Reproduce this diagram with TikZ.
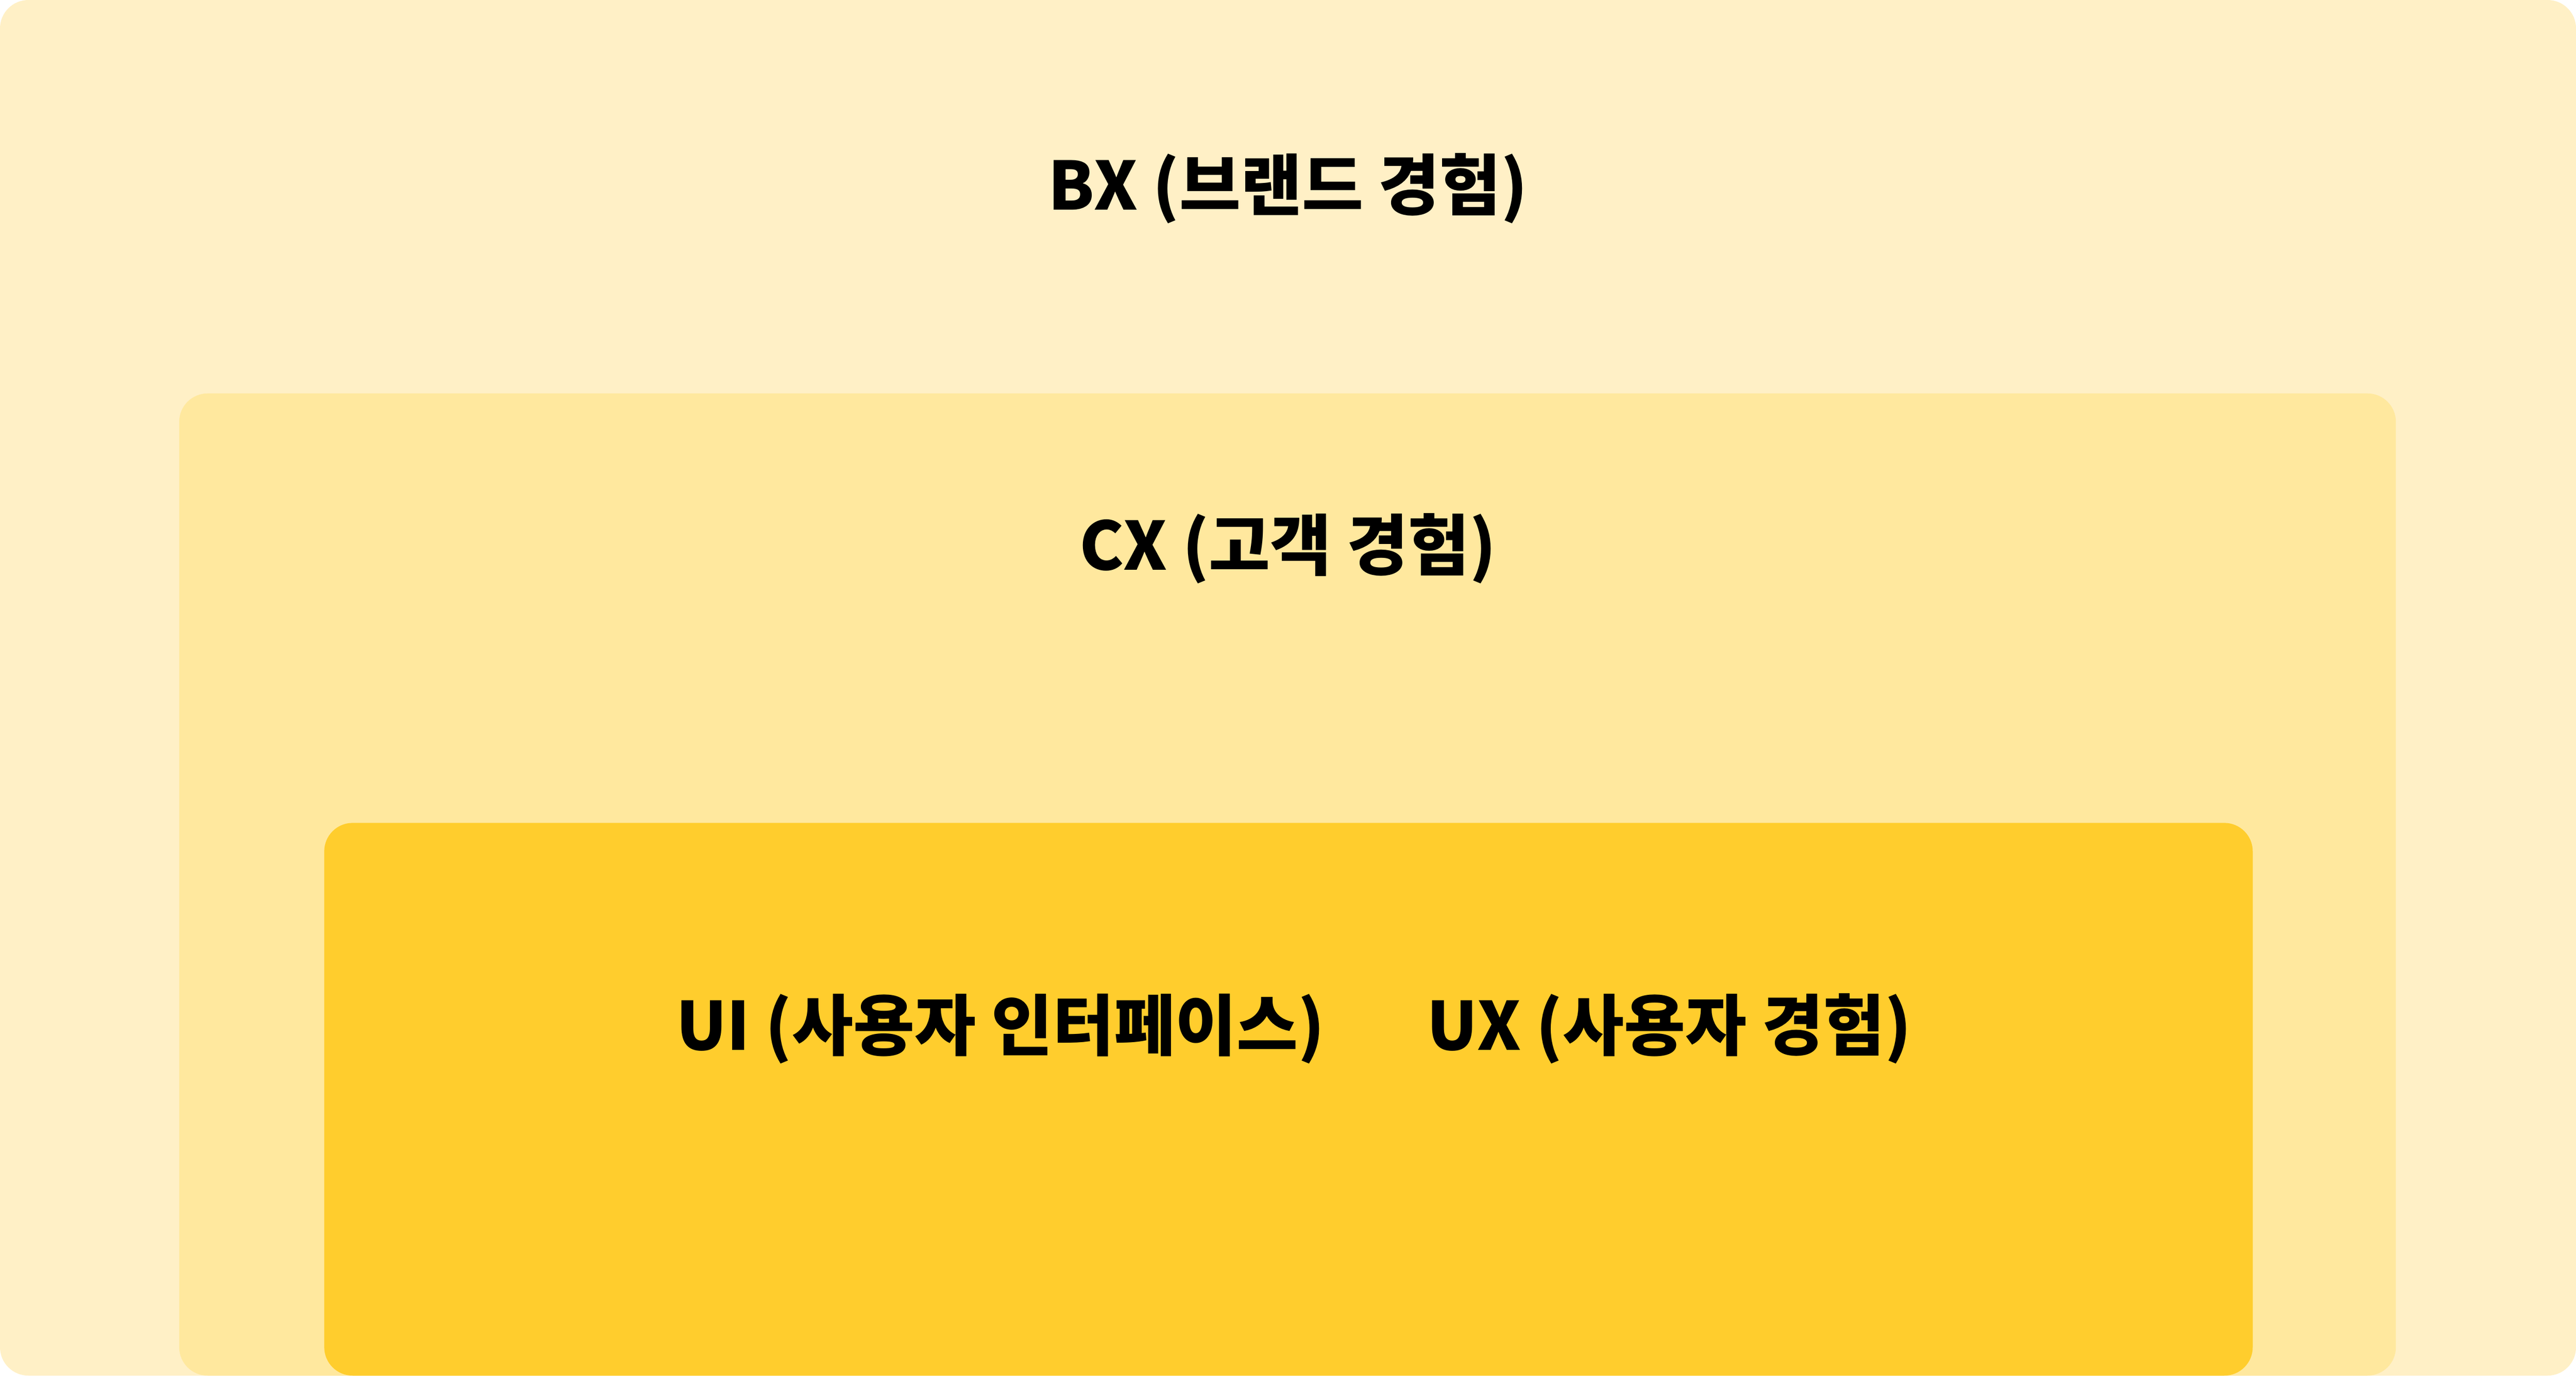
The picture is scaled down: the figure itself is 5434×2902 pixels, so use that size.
\documentclass[tikz,border=0pt]{standalone}
\usepackage{fontspec}
\setmainfont{Noto Sans CJK KR}[BoldFont=* Black]
\usepackage{tikz}
\usetikzlibrary{positioning}
\definecolor{bxcolor}{RGB}{255,240,198}
\definecolor{cxcolor}{RGB}{255,232,158}
\definecolor{uicolor}{RGB}{255,205,45}

\begin{document}
\begin{tikzpicture}[x=0.1mm,y=-0.1mm,layer/.style={rounded corners=6mm},
						every node/.style={font=\bfseries\fontsize{40}{48}\selectfont,inner sep=0pt,anchor=base}
						]
						\useasboundingbox (0,0) rectangle (5434,2902);
						\fill[layer,bxcolor] (0,0) rectangle (5434,2902);
						\fill[layer,cxcolor] (378,830) rectangle (5054,2902);
						\fill[layer,uicolor] (684,1736) rectangle (4752,2902);
						\node (bx) at (2717,443) {BX (브랜드 경험)};
						\node (cx) at (2717,1203) {CX (고객 경험)};
						\node (ui) at (2110,2215) {UI (사용자 인터페이스)};
						\node (ux) at (3521,2215) {UX (사용자 경험)};
						\end{tikzpicture}
\end{document}
